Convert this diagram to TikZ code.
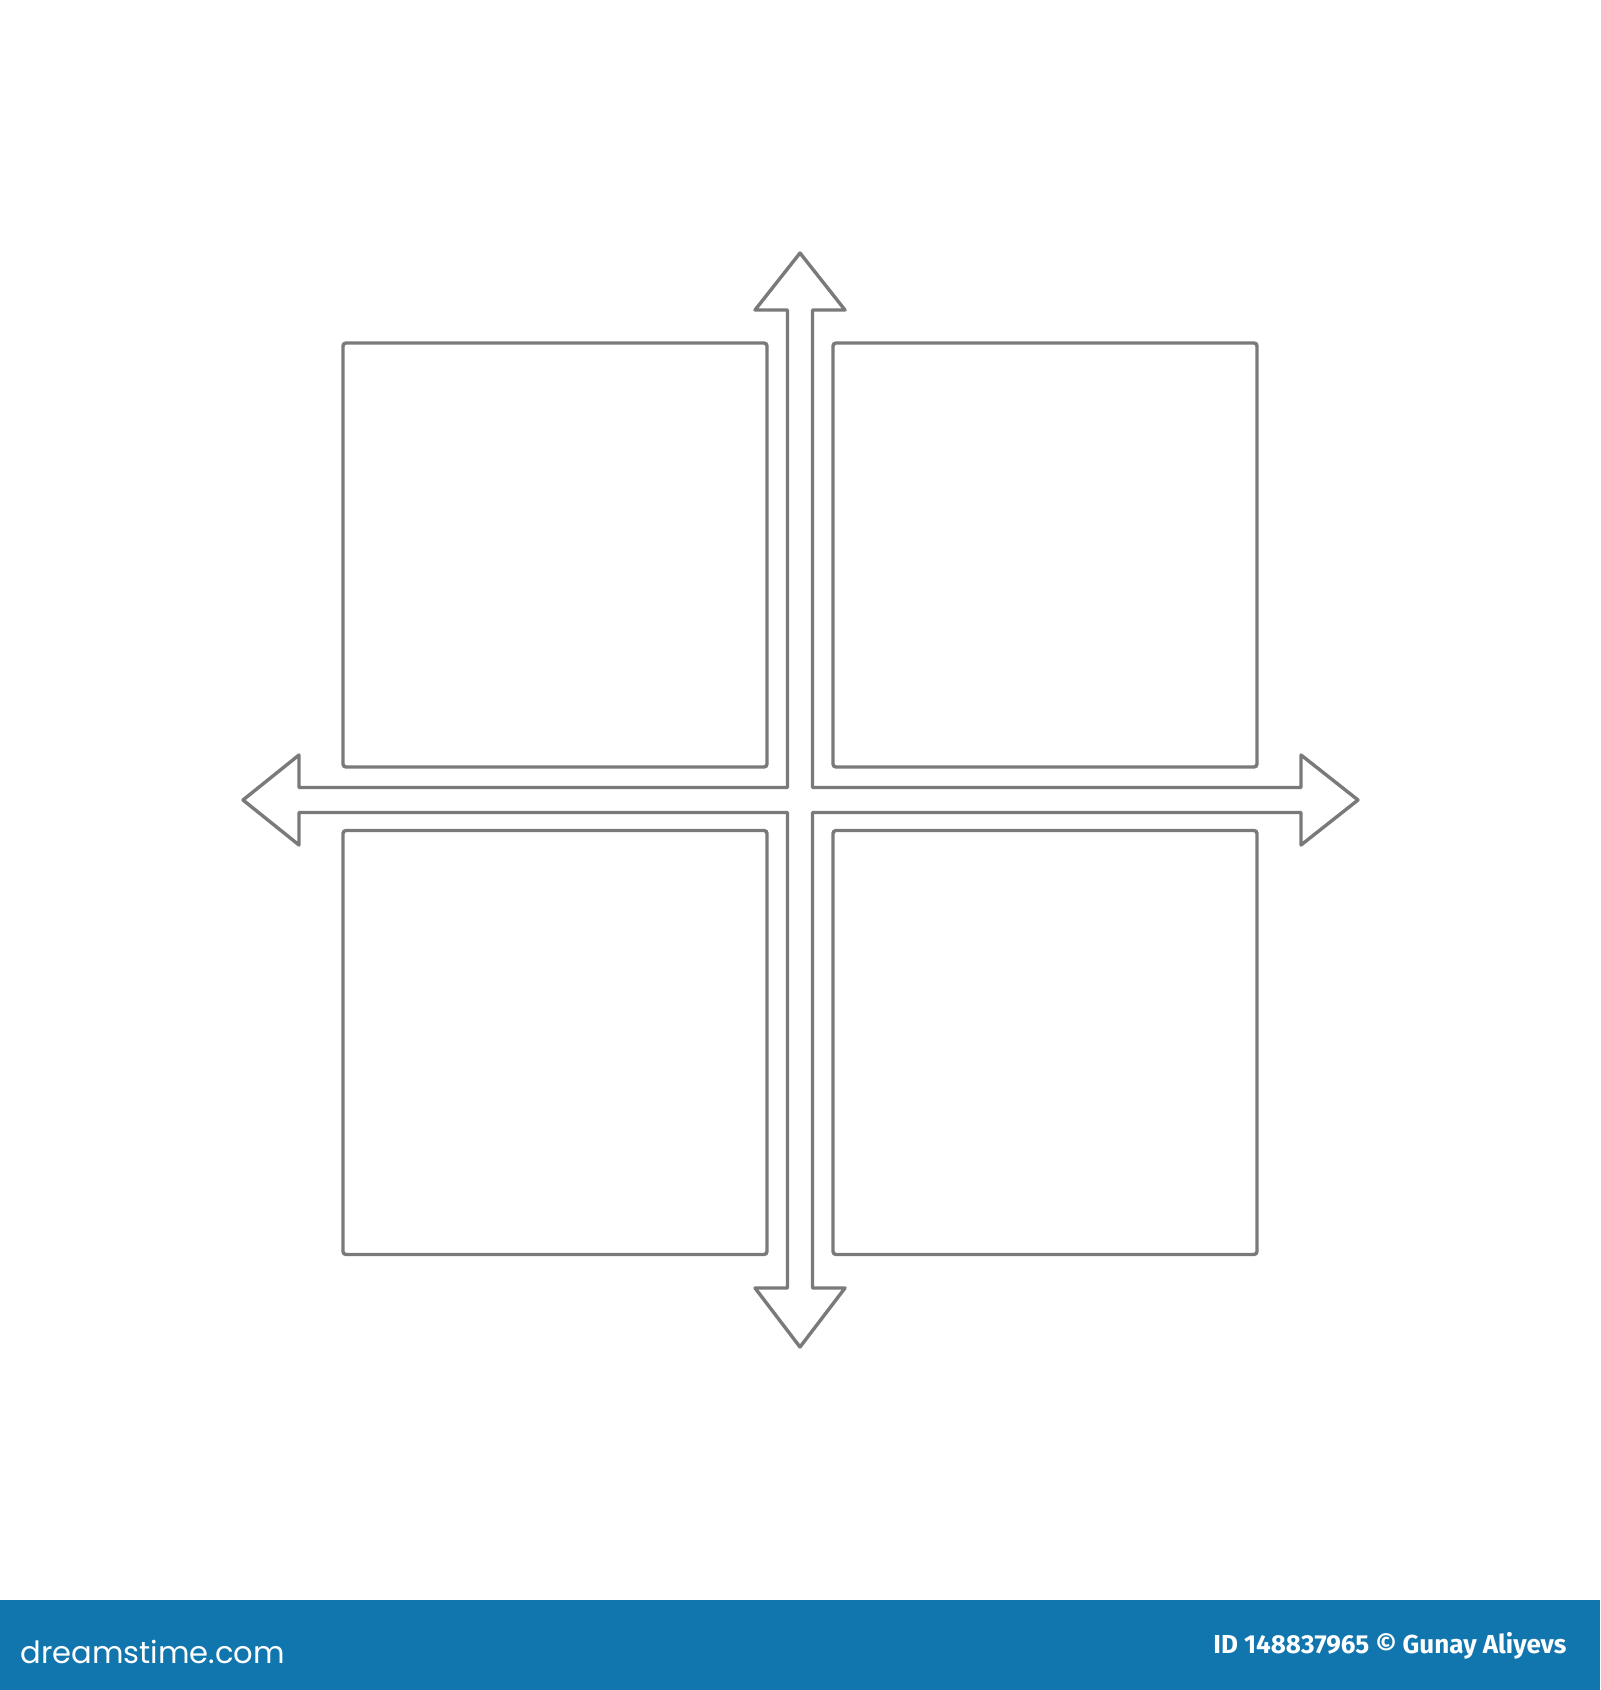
\documentclass[tikz,border=0pt]{standalone}
\usepackage{fontspec}
\newfontfamily\logofont{Poppins}
\newfontfamily\idfont{Fira Sans}
\definecolor{strokegray}{RGB}{122,122,122}
\definecolor{bannerblue}{RGB}{18,118,174}
\tikzset{
  quad/.style={draw=strokegray, line width=1.7pt, rounded corners=1.5pt, minimum width=212pt, minimum height=212pt, inner sep=0pt},
  crossline/.style={draw=strokegray, line width=1.7pt, line join=round}
}
\begin{document}
\begin{tikzpicture}[x=0.5pt,y=-0.5pt]
\useasboundingbox (0,0) rectangle (1600,1690);
\fill[white] (0,0) rectangle (1600,1690);
% quadrant boxes
\node[quad] (tl) at (555,555) {};
\node[quad] (tr) at (1045,555) {};
\node[quad] (bl) at (555,1042.5) {};
\node[quad] (br) at (1045,1042.5) {};
% cross of double arrows
\draw[crossline] (800,253) -- (845,310) -- (812.5,310) -- (812.5,787.5) -- (1301,787.5) -- (1301,755) -- (1358,800) -- (1301,845) -- (1301,812.5) -- (812.5,812.5) -- (812.5,1288) -- (845,1288) -- (800,1347) -- (755,1288) -- (787.5,1288) -- (787.5,812.5) -- (299,812.5) -- (299,845) -- (243,800) -- (299,755) -- (299,787.5) -- (787.5,787.5) -- (787.5,310) -- (755,310) -- cycle;
% banner
\fill[bannerblue] (0,1600) rectangle (1600,1690);
\node[anchor=base west, text=white, inner sep=0pt] (logo) at (20,1663) {\logofont\fontsize{15.3}{18}\selectfont dreamstime.com};
\node[anchor=base west, text=white, inner sep=0pt] (credit) at (1213,1653) {\idfont\bfseries\fontsize{13}{15}\selectfont ID 148837965 © Gunay Aliyevs};
\end{tikzpicture}
\end{document}
